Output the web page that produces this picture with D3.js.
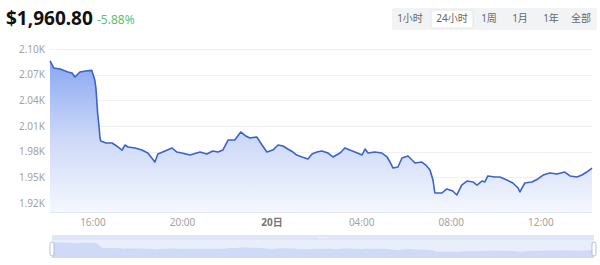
<!DOCTYPE html>
<html>
<head>
<meta charset="utf-8">
<script src="https://cdn.jsdelivr.net/npm/d3@7"></script>
<style>
  body { margin: 0; background: #fff; }
  svg { display: block; font-family: "Noto Sans", "Noto Sans CJK SC", sans-serif; }
</style>
</head>
<body>
<svg id="chart" width="600" height="265"></svg>
<script>
// price series
var times = [
  "19 14:05", "19 14:15", "19 14:32", "19 14:53", "19 15:04", "19 15:12", "19 15:25", "19 15:41",
  "19 15:57", "19 16:05", "19 16:08", "19 16:13", "19 16:16", "19 16:19", "19 16:21", "19 16:35",
  "19 16:51", "19 17:04", "19 17:18", "19 17:26", "19 17:34", "19 17:53", "19 18:11", "19 18:27",
  "19 18:46", "19 18:54", "19 19:13", "19 19:32", "19 19:45", "19 19:58", "19 20:20", "19 20:47",
  "19 21:05", "19 21:21", "19 21:35", "19 21:48", "19 22:02", "19 22:20", "19 22:36", "19 22:50",
  "19 23:00", "19 23:19", "19 23:33", "19 23:46", "20 00:02", "20 00:16", "20 00:29", "20 00:42",
  "20 00:56", "20 01:06", "20 01:20", "20 01:36", "20 01:47", "20 02:00", "20 02:13", "20 02:30",
  "20 02:43", "20 03:02", "20 03:15", "20 03:28", "20 03:42", "20 04:01", "20 04:09", "20 04:17",
  "20 04:35", "20 04:54", "20 05:08", "20 05:16", "20 05:24", "20 05:37", "20 05:48", "20 06:04",
  "20 06:15", "20 06:23", "20 06:41", "20 06:52", "20 07:03", "20 07:11", "20 07:16", "20 07:35",
  "20 07:48", "20 08:04", "20 08:15", "20 08:28", "20 08:42", "20 08:58", "20 09:09", "20 09:22",
  "20 09:30", "20 09:38", "20 09:57", "20 10:10", "20 10:29", "20 10:45", "20 10:59", "20 11:04",
  "20 11:17", "20 11:36", "20 11:52", "20 12:06", "20 12:24", "20 12:43", "20 13:04", "20 13:18",
  "20 13:37", "20 13:50", "20 14:03", "20 14:17"
];
var prices = [
  2086.0, 2077.8, 2076.6, 2073.1, 2071.9, 2067.3, 2073.1, 2074.3,
  2075.0, 2063.8, 2054.4, 2022.9, 2011.2, 1996.0, 1992.5, 1990.1,
  1990.1, 1986.6, 1981.9, 1987.8, 1985.5, 1984.3, 1981.9, 1978.4,
  1967.9, 1977.3, 1980.8, 1984.3, 1979.6, 1978.4, 1976.1, 1979.6,
  1977.3, 1980.8, 1979.6, 1981.9, 1993.6, 1993.6, 2003.0, 1998.3,
  1996.0, 1997.1, 1987.8, 1979.6, 1981.9, 1987.8, 1986.6, 1983.1,
  1979.6, 1976.1, 1973.8, 1971.4, 1977.3, 1979.6, 1980.8, 1978.4,
  1973.8, 1978.4, 1984.3, 1981.9, 1979.6, 1976.1, 1983.1, 1978.4,
  1979.6, 1978.4, 1973.8, 1967.9, 1960.9, 1962.1, 1972.6, 1974.9,
  1970.3, 1966.8, 1967.9, 1964.4, 1958.6, 1946.9, 1931.7, 1931.7,
  1936.4, 1934.0, 1929.4, 1941.0, 1945.7, 1944.6, 1941.0, 1945.7,
  1944.6, 1951.6, 1950.4, 1950.4, 1946.9, 1943.4, 1937.5, 1932.9,
  1943.4, 1944.6, 1948.1, 1952.7, 1955.1, 1953.9, 1956.2, 1951.6,
  1950.4, 1952.7, 1956.2, 1960.8
];

var yTicks = [1920, 1950, 1980, 2010, 2040, 2070, 2100];
var yTickLabels = ["1.92K", "1.95K", "1.98K", "2.01K", "2.04K", "2.07K", "2.10K"];
var xTicks = ["19 16:00", "19 20:00", "20 00:00", "20 04:00", "20 08:00", "20 12:00"];
var xTickLabels = ["16:00", "20:00", "20日", "04:00", "08:00", "12:00"];

var priceText = "$1,960.80";
var changeText = "-5.88%";
var ranges = ["1小时", "24小时", "1周", "1月", "1年", "全部"];
var activeRange = "24小时";

var parseTime = d3.timeParse("%d %H:%M");
var data = times.map(function (t, i) {
  return { t: parseTime(t), v: prices[i] };
});

var svg = d3.select("#chart");
var plotL = 50, plotR = 592, plotT = 49, plotB = 212;

var x = d3.scaleTime()
  .domain(d3.extent(data, function (d) { return d.t; }))
  .range([plotL, plotR]);
var y = d3.scaleLinear()
  .domain([1909.5, 2100])
  .range([plotB, plotT]);

// header
svg.append("text")
  .attr("x", 6).attr("y", 25)
  .style("font-size", "19px").style("font-weight", "bold").style("fill", "#111")
  .text(priceText);
svg.append("text")
  .attr("x", 97).attr("y", 24)
  .style("font-size", "12px").style("fill", "#5cbf74")
  .text(changeText);

// range buttons
var btnX = [392, 431, 474, 504, 536, 566];
var btnW = [36, 42, 30, 32, 30, 30];
svg.append("rect")
  .attr("x", 392).attr("y", 8).attr("width", 205).attr("height", 22)
  .attr("rx", 2).style("fill", "#f2f3f5");
var btns = svg.selectAll(".btn").data(ranges).enter().append("g").attr("class", "btn");
btns.append("rect")
  .attr("x", function (d, i) { return btnX[i]; })
  .attr("y", 10)
  .attr("width", function (d, i) { return btnW[i]; })
  .attr("height", 18)
  .attr("rx", 2)
  .style("fill", function (d) { return d === activeRange ? "#fff" : "none"; })
  .style("stroke", function (d) { return d === activeRange ? "#e6e6e6" : "none"; });
btns.append("text")
  .attr("x", function (d, i) { return btnX[i] + btnW[i] / 2; })
  .attr("y", 22)
  .attr("text-anchor", "middle")
  .style("font-size", "10px").style("fill", "#666")
  .text(function (d) { return d; });

// gradient for area
var defs = svg.append("defs");
var grad = defs.append("linearGradient")
  .attr("id", "fillGrad")
  .attr("gradientUnits", "userSpaceOnUse")
  .attr("x1", 0).attr("y1", plotT).attr("x2", 0).attr("y2", plotB);
grad.append("stop").attr("offset", "0%").style("stop-color", "#7f9ff0");
grad.append("stop").attr("offset", "55%").style("stop-color", "#cdd9f8");
grad.append("stop").attr("offset", "100%").style("stop-color", "#f4f7fe");

// grid
svg.selectAll(".grid").data(yTicks).enter().append("line")
  .attr("class", "grid")
  .attr("x1", plotL).attr("x2", plotR)
  .attr("y1", function (d) { return Math.round(y(d)) + 0.5; })
  .attr("y2", function (d) { return Math.round(y(d)) + 0.5; })
  .style("stroke", "#eef0f3").style("stroke-width", 1);

svg.selectAll(".ylab").data(yTicks).enter().append("text")
  .attr("class", "ylab")
  .attr("x", 45)
  .attr("y", function (d) { return y(d) + 3.5; })
  .attr("text-anchor", "end")
  .style("font-size", "10px").style("fill", "#a3a3a3")
  .text(function (d, i) { return yTickLabels[i]; });

// area + line
var area = d3.area()
  .x(function (d) { return x(d.t); })
  .y0(plotB)
  .y1(function (d) { return y(d.v); });
var line = d3.line()
  .x(function (d) { return x(d.t); })
  .y(function (d) { return y(d.v); });

svg.append("path").datum(data).attr("d", area).style("fill", "url(#fillGrad)");
svg.append("path").datum(data).attr("d", line)
  .style("fill", "none").style("stroke", "#3b63cc").style("stroke-width", 1.6)
  .style("stroke-linejoin", "round");

// x axis
svg.append("line")
  .attr("x1", plotL).attr("x2", plotR).attr("y1", plotB + 0.5).attr("y2", plotB + 0.5)
  .style("stroke", "#e3e6ea");
svg.selectAll(".xlab").data(xTicks).enter().append("text")
  .attr("class", "xlab")
  .attr("x", function (d) { return x(parseTime(d)); })
  .attr("y", 226)
  .attr("text-anchor", "middle")
  .style("font-size", "10px")
  .style("font-weight", function (d, i) { return xTickLabels[i] === "20日" ? "bold" : "normal"; })
  .style("fill", function (d, i) { return xTickLabels[i] === "20日" ? "#777" : "#a3a3a3"; })
  .text(function (d, i) { return xTickLabels[i]; });

// data zoom slider
var sTop = 235, sBot = 258, sLeft = 52, sRight = 594;
svg.append("rect")
  .attr("x", sLeft).attr("y", sTop).attr("width", sRight - sLeft).attr("height", sBot - sTop)
  .style("fill", "#e9eefb");
svg.append("rect")
  .attr("x", sLeft).attr("y", sTop).attr("width", sRight - sLeft).attr("height", 5)
  .style("fill", "#dfe6f7");
var xs = d3.scaleTime().domain(x.domain()).range([sLeft, sRight]);
var ys = d3.scaleLinear().domain(d3.extent(prices)).range([sBot - 6, sBot - 16]);
var miniArea = d3.area()
  .x(function (d) { return xs(d.t); })
  .y0(sBot)
  .y1(function (d) { return ys(d.v); });
svg.append("path").datum(data).attr("d", miniArea).style("fill", "#cfdaf6");
svg.selectAll(".dot").data([-3, 0, 3]).enter().append("circle")
  .attr("class", "dot")
  .attr("cx", function (d) { return (sLeft + sRight) / 2 + d; })
  .attr("cy", sTop + 2.5).attr("r", 0.8).style("fill", "#fff");
svg.selectAll(".handle").data([sLeft, sRight]).enter().append("rect")
  .attr("class", "handle")
  .attr("x", function (d) { return d - 2; })
  .attr("y", 242).attr("width", 4).attr("height", 14).attr("rx", 2)
  .style("fill", "#fff").style("stroke", "#aab4c8").style("stroke-width", 0.8);
</script>
</body>
</html>
